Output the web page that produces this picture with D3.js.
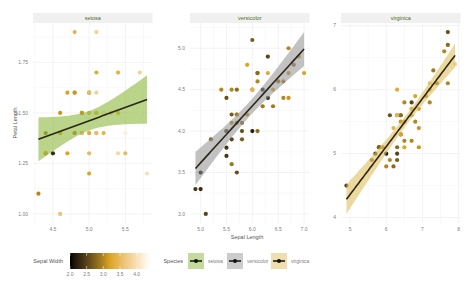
<!DOCTYPE html>
<html>
<head>
<meta charset="utf-8">
<script src="https://cdn.jsdelivr.net/npm/d3@7"></script>
<style>
  body { margin: 0; background: #fff; }
  svg { display: block; font-family: "Liberation Sans", Arial, sans-serif; }
</style>
</head>
<body>
<svg width="474" height="292"></svg>
<script>
// iris data, one set of arrays per species
const setosaSepalLength = [5.1,4.9,4.7,4.6,5.0,5.4,4.6,5.0,4.4,4.9,5.4,4.8,4.8,4.3,5.8,5.7,5.4,5.1,5.7,5.1,5.4,5.1,4.6,5.1,4.8,5.0,5.0,5.2,5.2,4.7,4.8,5.4,5.2,5.5,4.9,5.0,5.5,4.9,4.4,5.1,5.0,4.5,4.4,5.0,5.1,4.8,5.1,4.6,5.3,5.0];
const setosaSepalWidth  = [3.5,3.0,3.2,3.1,3.6,3.9,3.4,3.4,2.9,3.1,3.7,3.4,3.0,3.0,4.0,4.4,3.9,3.5,3.8,3.8,3.4,3.7,3.6,3.3,3.4,3.0,3.4,3.5,3.4,3.2,3.1,3.4,4.1,4.2,3.1,3.2,3.5,3.6,3.0,3.4,3.5,2.3,3.2,3.5,3.8,3.0,3.8,3.2,3.7,3.3];
const setosaPetalLength = [1.4,1.4,1.3,1.5,1.4,1.7,1.4,1.5,1.4,1.5,1.5,1.6,1.4,1.1,1.2,1.5,1.3,1.4,1.7,1.5,1.7,1.5,1.0,1.7,1.9,1.6,1.6,1.5,1.4,1.6,1.6,1.5,1.5,1.4,1.5,1.2,1.3,1.4,1.3,1.5,1.3,1.3,1.3,1.6,1.9,1.4,1.6,1.4,1.5,1.4];

const versicolorSepalLength = [7.0,6.4,6.9,5.5,6.5,5.7,6.3,4.9,6.6,5.2,5.0,5.9,6.0,6.1,5.6,6.7,5.6,5.8,6.2,5.6,5.9,6.1,6.3,6.1,6.4,6.6,6.8,6.7,6.0,5.7,5.5,5.5,5.8,6.0,5.4,6.0,6.7,6.3,5.6,5.5,5.5,6.1,5.8,5.0,5.6,5.7,5.7,6.2,5.1,5.7];
const versicolorSepalWidth  = [3.2,3.2,3.1,2.3,2.8,2.8,3.3,2.4,2.9,2.7,2.0,3.0,2.2,2.9,2.9,3.1,3.0,2.7,2.2,2.5,3.2,2.8,2.5,2.8,2.9,3.0,2.8,3.0,2.9,2.6,2.4,2.4,2.7,2.7,3.0,3.4,3.1,2.3,3.0,2.5,2.6,3.0,2.6,2.3,2.7,3.0,2.9,2.9,2.5,2.8];
const versicolorPetalLength = [4.7,4.5,4.9,4.0,4.6,4.5,4.7,3.3,4.6,3.9,3.5,4.2,4.0,4.7,3.6,4.4,4.5,4.1,4.5,3.9,4.8,4.0,4.9,4.7,4.3,4.4,4.8,5.0,4.5,3.5,3.8,3.7,3.9,5.1,4.5,4.5,4.7,4.4,4.1,4.0,4.4,4.6,4.0,3.3,4.2,4.2,4.2,4.3,3.0,4.1];

const virginicaSepalLength = [6.3,5.8,7.1,6.3,6.5,7.6,4.9,7.3,6.7,7.2,6.5,6.4,6.8,5.7,5.8,6.4,6.5,7.7,7.7,6.0,6.9,5.6,7.7,6.3,6.7,7.2,6.2,6.1,6.4,7.2,7.4,7.9,6.4,6.3,6.1,7.7,6.3,6.4,6.0,6.9,6.7,6.9,5.8,6.8,6.7,6.7,6.3,6.5,6.2,5.9];
const virginicaSepalWidth  = [3.3,2.7,3.0,2.9,3.0,3.0,2.5,2.9,2.5,3.6,3.2,2.7,3.0,2.5,2.8,3.2,3.0,3.8,2.6,2.2,3.2,2.8,2.8,2.7,3.3,3.2,2.8,3.0,2.8,3.0,2.8,3.8,2.8,2.8,2.6,3.0,3.4,3.1,3.0,3.1,3.1,3.1,2.7,3.2,3.3,3.0,2.5,3.0,3.4,3.0];
const virginicaPetalLength = [6.0,5.1,5.9,5.6,5.8,6.6,4.5,6.3,5.8,6.1,5.1,5.3,5.5,5.0,5.1,5.3,5.5,6.7,6.9,5.0,5.7,4.9,6.7,4.9,5.7,6.0,4.8,4.9,5.6,5.8,6.1,6.4,5.6,5.1,5.6,6.1,5.6,5.5,4.8,5.4,5.6,5.1,5.1,5.9,5.7,5.2,5.0,5.2,5.4,5.1];

const speciesNames = ["setosa", "versicolor", "virginica"];
const speciesFill = ["#8cb83c", "#999999", "#e0c060"];

const setosaXTicks = [4.5, 5.0, 5.5];
const setosaYTicks = [1.00, 1.25, 1.50, 1.75];
const versicolorXTicks = [5.0, 5.5, 6.0, 6.5, 7.0];
const versicolorYTicks = [3.0, 3.5, 4.0, 4.5, 5.0];
const virginicaXTicks = [5, 6, 7, 8];
const virginicaYTicks = [4, 5, 6, 7];

const widthTicks = [2.0, 2.5, 3.0, 3.5, 4.0];

const panels = [
  { name: "setosa", sl: setosaSepalLength, sw: setosaSepalWidth, pl: setosaPetalLength,
    xTicks: setosaXTicks, yTicks: setosaYTicks, xFmt: ".1f", yFmt: ".2f", fill: speciesFill[0] },
  { name: "versicolor", sl: versicolorSepalLength, sw: versicolorSepalWidth, pl: versicolorPetalLength,
    xTicks: versicolorXTicks, yTicks: versicolorYTicks, xFmt: ".1f", yFmt: ".1f", fill: speciesFill[1] },
  { name: "virginica", sl: virginicaSepalLength, sw: virginicaSepalWidth, pl: virginicaPetalLength,
    xTicks: virginicaXTicks, yTicks: virginicaYTicks, xFmt: "d", yFmt: "d", fill: speciesFill[2] }
];

const svg = d3.select("svg");
const panelLeft = [33, 190, 341];
const panelW = 119.5, panelTop = 23, panelH = 200, stripH = 10;
const tickColor = "#808080";
const gridColor = "#ebebeb";

const allWidths = [...setosaSepalWidth, ...versicolorSepalWidth, ...virginicaSepalWidth];
const widthExtent = d3.extent(allWidths);
const colour = d3.scaleLinear()
  .domain([widthExtent[0], (widthExtent[0] + widthExtent[1]) / 2, widthExtent[1]])
  .range(["#000000", "#daa520", "#ffffff"])
  .interpolate(d3.interpolateLab);

// linear fit with 95% band, like geom_smooth(method = "lm")
function lmFit(xs, ys) {
  const n = xs.length;
  const mx = d3.mean(xs), my = d3.mean(ys);
  let sxx = 0, sxy = 0;
  xs.forEach((x, i) => { sxx += (x - mx) ** 2; sxy += (x - mx) * (ys[i] - my); });
  const b = sxy / sxx, a = my - b * mx;
  let rss = 0;
  xs.forEach((x, i) => { rss += (ys[i] - a - b * x) ** 2; });
  const s = Math.sqrt(rss / (n - 2));
  const t = 2.010635; // qt(0.975, 48)
  const [x0, x1] = d3.extent(xs);
  return d3.range(80).map(k => {
    const x = x0 + (x1 - x0) * k / 79;
    const fit = a + b * x;
    const se = s * Math.sqrt(1 / n + (x - mx) ** 2 / sxx);
    return { x: x, y: fit, lo: fit - t * se, hi: fit + t * se };
  });
}

function expand(ext) {
  const d = (ext[1] - ext[0]) * 0.05;
  return [ext[0] - d, ext[1] + d];
}

panels.forEach((p, i) => {
  const left = panelLeft[i];
  const fit = lmFit(p.sl, p.pl);
  const x = d3.scaleLinear().domain(expand(d3.extent(p.sl))).range([left, left + panelW]);
  const yExt = [Math.min(d3.min(p.pl), d3.min(fit, d => d.lo)), Math.max(d3.max(p.pl), d3.max(fit, d => d.hi))];
  const y = d3.scaleLinear().domain(expand(yExt)).range([panelTop + panelH, panelTop]);

  const g = svg.append("g");

  // strip
  g.append("rect").attr("x", left).attr("y", panelTop - stripH).attr("width", panelW).attr("height", stripH)
    .attr("fill", "#f0f0f0");
  g.append("text").attr("x", left + panelW / 2).attr("y", panelTop - stripH / 2 + 2)
    .attr("text-anchor", "middle").attr("font-size", 5.5).attr("fill", "#4f6b2a").text(p.name);

  // minor grid
  const xStep = p.xTicks[1] - p.xTicks[0], yStep = p.yTicks[1] - p.yTicks[0];
  const xMinor = d3.range(p.xTicks[0] - xStep / 2, x.domain()[1], xStep).filter(v => v > x.domain()[0]);
  const yMinor = d3.range(p.yTicks[0] - yStep / 2, y.domain()[1], yStep).filter(v => v > y.domain()[0]);
  g.selectAll(".xminor").data(xMinor).enter().append("line")
    .attr("x1", d => x(d)).attr("x2", d => x(d)).attr("y1", panelTop).attr("y2", panelTop + panelH)
    .attr("stroke", gridColor).attr("stroke-width", 0.3);
  g.selectAll(".yminor").data(yMinor).enter().append("line")
    .attr("y1", d => y(d)).attr("y2", d => y(d)).attr("x1", left).attr("x2", left + panelW)
    .attr("stroke", gridColor).attr("stroke-width", 0.3);
  // major grid
  g.selectAll(".xmajor").data(p.xTicks).enter().append("line")
    .attr("x1", d => x(d)).attr("x2", d => x(d)).attr("y1", panelTop).attr("y2", panelTop + panelH)
    .attr("stroke", gridColor).attr("stroke-width", 0.6);
  g.selectAll(".ymajor").data(p.yTicks).enter().append("line")
    .attr("y1", d => y(d)).attr("y2", d => y(d)).attr("x1", left).attr("x2", left + panelW)
    .attr("stroke", gridColor).attr("stroke-width", 0.6);

  // tick labels
  g.selectAll(".xlab").data(p.xTicks).enter().append("text")
    .attr("x", d => x(d)).attr("y", panelTop + panelH + 8)
    .attr("text-anchor", "middle").attr("font-size", 5).attr("fill", tickColor)
    .text(d => d3.format(p.xFmt)(d));
  g.selectAll(".ylab").data(p.yTicks).enter().append("text")
    .attr("x", left - 5).attr("y", d => y(d) + 1.8)
    .attr("text-anchor", "end").attr("font-size", 5).attr("fill", tickColor)
    .text(d => d3.format(p.yFmt)(d));

  // points
  g.selectAll(".pt").data(p.sl.map((v, k) => k)).enter().append("circle")
    .attr("cx", k => x(p.sl[k])).attr("cy", k => y(p.pl[k])).attr("r", 2.1)
    .attr("fill", k => colour(p.sw[k]));

  // smooth band and line
  g.append("path").datum(fit)
    .attr("d", d3.area().x(d => x(d.x)).y0(d => y(d.lo)).y1(d => y(d.hi)))
    .attr("fill", p.fill).attr("fill-opacity", 0.6);
  g.append("path").datum(fit)
    .attr("d", d3.line().x(d => x(d.x)).y(d => y(d.y)))
    .attr("fill", "none").attr("stroke", "#2b2616").attr("stroke-width", 1.6);
});

// axis titles
svg.append("text").attr("x", 247).attr("y", 238.5).attr("text-anchor", "middle")
  .attr("font-size", 5.5).attr("fill", "#555").text("Sepal Length");
svg.append("text").attr("transform", "translate(16.5,123) rotate(-90)").attr("text-anchor", "middle")
  .attr("font-size", 5.5).attr("fill", "#555").text("Petal Length");

// colour bar legend
const legY = 253, legH = 16;
svg.append("text").attr("x", 63).attr("y", legY + legH / 2 + 2).attr("text-anchor", "end")
  .attr("font-size", 5.5).attr("fill", "#555").text("Sepal Width");
const bx = d3.scaleLinear().domain(widthExtent).range([70, 150]);
const grad = svg.append("defs").append("linearGradient").attr("id", "gw")
  .attr("x1", "0%").attr("x2", "100%").attr("y1", "0%").attr("y2", "0%");
d3.range(0, 1.0001, 0.05).forEach(f => {
  grad.append("stop").attr("offset", (f * 100) + "%")
    .attr("stop-color", colour(widthExtent[0] + f * (widthExtent[1] - widthExtent[0])));
});
svg.append("rect").attr("x", bx.range()[0]).attr("y", legY).attr("width", bx.range()[1] - bx.range()[0])
  .attr("height", legH).attr("fill", "url(#gw)");
widthTicks.forEach(v => {
  svg.append("line").attr("x1", bx(v)).attr("x2", bx(v)).attr("y1", legY).attr("y2", legY + 3)
    .attr("stroke", "#fff").attr("stroke-width", 0.5);
  svg.append("line").attr("x1", bx(v)).attr("x2", bx(v)).attr("y1", legY + legH - 3).attr("y2", legY + legH)
    .attr("stroke", "#fff").attr("stroke-width", 0.5);
});
svg.selectAll(".blab").data(widthTicks).enter().append("text")
  .attr("x", d => bx(d)).attr("y", legY + legH + 7).attr("text-anchor", "middle")
  .attr("font-size", 5).attr("fill", tickColor).text(d => d3.format(".1f")(d));

// species legend
svg.append("text").attr("x", 183).attr("y", legY + legH / 2 + 2).attr("text-anchor", "end")
  .attr("font-size", 5.5).attr("fill", "#555").text("Species");
const keyX = [188, 227, 271];
speciesNames.forEach((s, i) => {
  const kx = keyX[i];
  svg.append("rect").attr("x", kx).attr("y", legY).attr("width", 16).attr("height", legH)
    .attr("fill", speciesFill[i]).attr("fill-opacity", 0.5);
  svg.append("line").attr("x1", kx + 2).attr("x2", kx + 14).attr("y1", legY + legH / 2).attr("y2", legY + legH / 2)
    .attr("stroke", "#111").attr("stroke-width", 1.5);
  svg.append("circle").attr("cx", kx + 8).attr("cy", legY + legH / 2).attr("r", 2).attr("fill", "#111");
  svg.append("text").attr("x", kx + 20).attr("y", legY + legH / 2 + 2)
    .attr("font-size", 5).attr("fill", tickColor).text(s);
});
</script>
</body>
</html>
